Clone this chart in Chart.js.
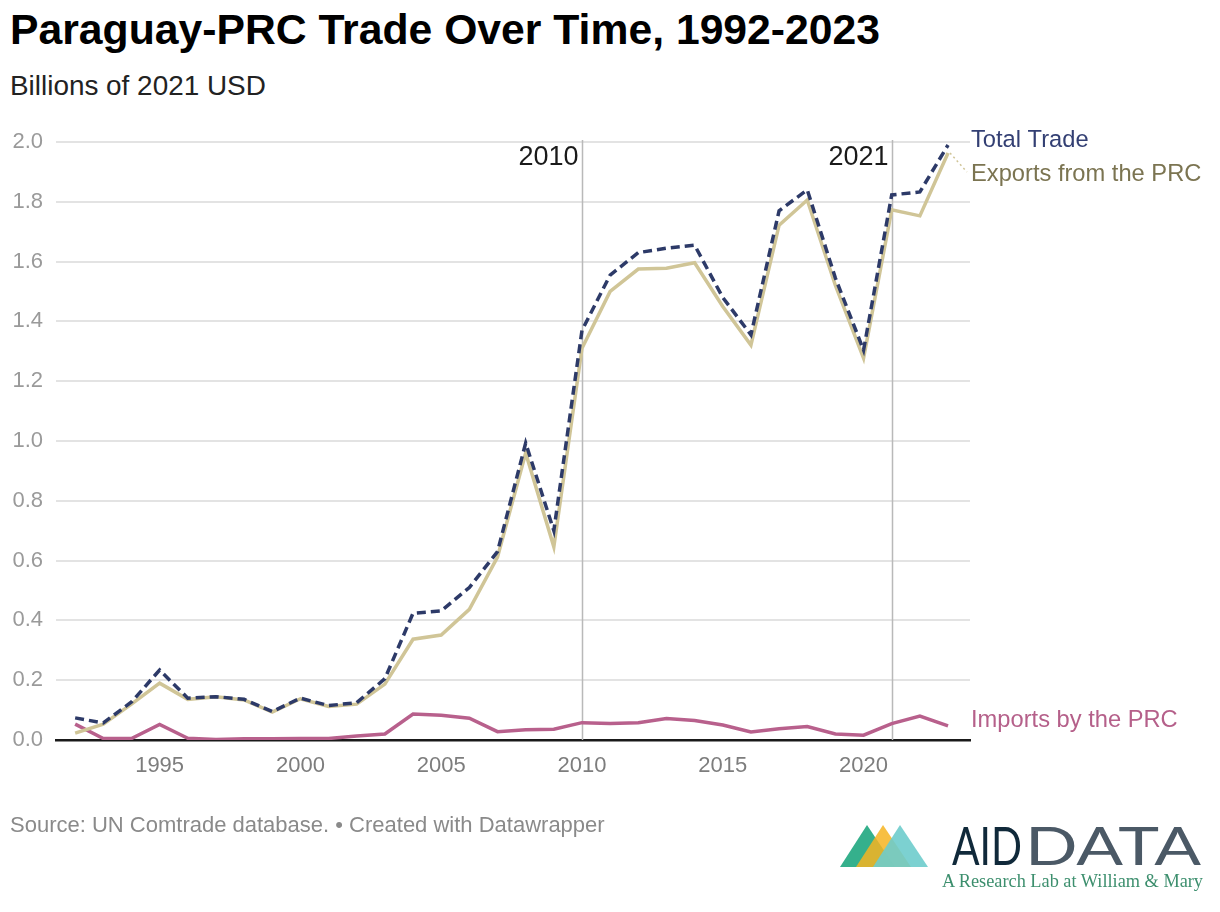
<!DOCTYPE html>
<html>
<head>
<meta charset="utf-8">
<script src="https://cdn.jsdelivr.net/npm/chart.js@4.4.1/dist/chart.umd.min.js"></script>
<style>
  html, body { margin: 0; padding: 0; background: #fff; }
  body { width: 1220px; height: 912px; position: relative; overflow: hidden; font-family: "Liberation Sans", Arial, sans-serif; }
  #chart { position: absolute; left: 0; top: 0; }
  .title { position: absolute; left: 10px; top: 5px; font-size: 42.7px; font-weight: bold; color: #000; white-space: nowrap; }
  .subtitle { position: absolute; left: 10px; top: 70px; font-size: 27.9px; color: #222; white-space: nowrap; }
  .source { position: absolute; left: 10px; top: 812px; font-size: 22px; color: #8a8a8a; white-space: nowrap; }
  #logo { position: absolute; left: 836px; top: 818px; }
</style>
</head>
<body>
<div class="title">Paraguay-PRC Trade Over Time, 1992-2023</div>
<div class="subtitle">Billions of 2021 USD</div>
<canvas id="chart" width="1220" height="912"></canvas>
<div class="source">Source: UN Comtrade database. • Created with Datawrapper</div>
<svg id="logo" width="380" height="80" viewBox="0 0 380 80">
  <g style="mix-blend-mode:multiply">
    <polygon points="4,49 31,7 59,49" fill="#35b08c"/>
    <polygon points="20,49 47,7 75,49" fill="#f6b421" opacity="0.85"/>
    <polygon points="37,49 64,7 92,49" fill="#6ecccc" opacity="0.9"/>
  </g>
  <text x="116" y="47" textLength="70" lengthAdjust="spacingAndGlyphs" font-family="Lato, 'Open Sans', sans-serif" font-size="52" fill="#10293a">AID</text>
  <text x="189" y="47" textLength="176" lengthAdjust="spacingAndGlyphs" font-family="Lato, 'Open Sans', sans-serif" font-size="52" fill="#4b5966">DATA</text>
  <text x="106" y="69" textLength="261" lengthAdjust="spacingAndGlyphs" font-family="'Liberation Serif', 'DejaVu Serif', serif" font-size="19" fill="#3d8f6e">A Research Lab at William &amp; Mary</text>
</svg>

<script>
// years and values (billions of 2021 USD)
const years = [1992,1993,1994,1995,1996,1997,1998,1999,2000,2001,2002,2003,2004,2005,2006,2007,
               2008,2009,2010,2011,2012,2013,2014,2015,2016,2017,2018,2019,2020,2021,2022,2023];
const totalTrade = [0.074,0.057,0.127,0.234,0.14,0.145,0.136,0.095,0.14,0.115,0.125,0.205,0.424,0.432,0.51,0.63,
                    0.993,0.70,1.37,1.555,1.63,1.645,1.655,1.48,1.355,1.77,1.84,1.545,1.304,1.823,1.833,1.99];
const exportsPRC = [0.023,0.053,0.12,0.19,0.136,0.145,0.134,0.093,0.138,0.112,0.12,0.187,0.337,0.351,0.437,0.612,
                    0.96,0.646,1.31,1.50,1.575,1.578,1.596,1.45,1.321,1.722,1.806,1.52,1.277,1.773,1.753,1.963];
const importsPRC = [0.053,0.005,0.005,0.052,0.006,0.002,0.004,0.004,0.005,0.005,0.013,0.02,0.087,0.083,0.073,0.028,
                    0.034,0.036,0.058,0.055,0.058,0.072,0.065,0.05,0.027,0.038,0.045,0.02,0.016,0.055,0.08,0.047];
const xTicks = [1995, 2000, 2005, 2010, 2015, 2020];
const markerYears = [2010, 2021];

const toPts = arr => arr.map((v, i) => ({x: years[i], y: v}));

const FONT = '"Liberation Sans", Arial, sans-serif';

// vertical year markers, under the lines
const markers = {
  id: 'markers',
  beforeDatasetsDraw(chart) {
    const {ctx, chartArea, scales} = chart;
    ctx.save();
    markerYears.forEach(yr => {
      const x = Math.round(scales.x.getPixelForValue(yr)) + 0.5;
      ctx.strokeStyle = '#b9b9b9';
      ctx.lineWidth = 1.5;
      ctx.beginPath();
      ctx.moveTo(x, chartArea.top - 2);
      ctx.lineTo(x, chartArea.bottom);
      ctx.stroke();
      ctx.fillStyle = '#1a1a1a';
      ctx.font = '27px ' + FONT;
      ctx.textAlign = 'right';
      ctx.textBaseline = 'middle';
      ctx.fillText(String(yr), x - 4, chartArea.top + 16);
    });
    ctx.restore();
  }
};

// labels at the end of each line
const endLabels = {
  id: 'endLabels',
  afterDatasetsDraw(chart) {
    const {ctx, chartArea, scales} = chart;
    const items = chart.data.datasets.map(ds => {
      const last = ds.data[ds.data.length - 1];
      const px = scales.y.getPixelForValue(last.y);
      return {text: ds.label, color: ds.labelColor, lineColor: ds.borderColor, x0: scales.x.getPixelForValue(last.x), y0: px, y: px - 5};
    }).sort((a, b) => a.y - b.y);
    for (let i = 1; i < items.length; i++) {
      if (items[i].y - items[i - 1].y < 34) items[i].y = items[i - 1].y + 34;
    }
    ctx.save();
    ctx.font = '23.7px ' + FONT;
    ctx.textAlign = 'left';
    ctx.textBaseline = 'middle';
    const lx = chartArea.right + 1;
    items.forEach(it => {
      if (it.y - it.y0 > 12) {
        ctx.strokeStyle = it.lineColor;
        ctx.lineWidth = 1.5;
        ctx.setLineDash([2, 3]);
        ctx.beginPath();
        ctx.moveTo(it.x0 + 2, it.y0);
        ctx.lineTo(lx - 4, it.y - 2);
        ctx.stroke();
        ctx.setLineDash([]);
      }
      ctx.fillStyle = it.color;
      ctx.fillText(it.text, lx, it.y);
    });
    ctx.restore();
  }
};

new Chart(document.getElementById('chart'), {
  type: 'line',
  data: {
    datasets: [
      {label: 'Total Trade', data: toPts(totalTrade), borderColor: '#2d3a68', labelColor: '#333f73',
       borderWidth: 3.5, borderDash: [9, 5], pointRadius: 0, tension: 0},
      {label: 'Exports from the PRC', data: toPts(exportsPRC), borderColor: '#d0c597', labelColor: '#7b7451',
       borderWidth: 3.5, pointRadius: 0, tension: 0},
      {label: 'Imports by the PRC', data: toPts(importsPRC), borderColor: '#b8608c', labelColor: '#b5608a',
       borderWidth: 3.5, pointRadius: 0, tension: 0}
    ]
  },
  options: {
    responsive: false,
    animation: false,
    layout: {padding: {left: 0, top: 142, right: 250, bottom: 132}},
    plugins: {legend: {display: false}, tooltip: {enabled: false}},
    scales: {
      x: {
        type: 'linear',
        min: 1991.32,
        max: 2023.78,
        afterBuildTicks: s => { s.ticks = xTicks.map(v => ({value: v})); },
        afterFit: s => { s.height = 40; },
        grid: {display: false, drawTicks: false},
        border: {display: true, color: '#1a1a1a', width: 2.5},
        ticks: {padding: 13, color: '#7d7d7d', font: {family: FONT, size: 22}, callback: v => String(v), maxRotation: 0}
      },
      y: {
        min: 0,
        max: 2,
        afterFit: s => { s.width = 56; },
        grid: {color: '#e3e3e3', lineWidth: 2, drawTicks: false},
        border: {display: false},
        ticks: {stepSize: 0.2, padding: 13, color: '#9a9a9a', font: {family: FONT, size: 22}, callback: v => v.toFixed(1)}
      }
    }
  },
  plugins: [markers, endLabels]
});
</script>
</body>
</html>
